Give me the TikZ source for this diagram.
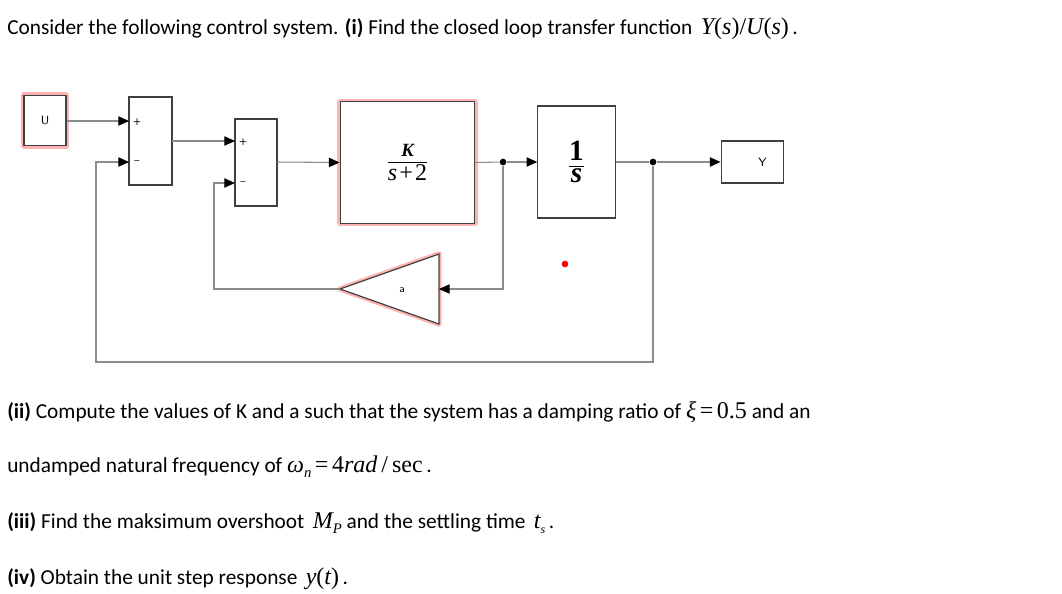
\documentclass[tikz,border=0pt]{standalone}
\usepackage{fontspec}
\setmainfont{Carlito}
\newfontfamily\tms{Liberation Serif}
\usetikzlibrary{arrows.meta}
\newcommand{\mi}[1]{\mbox{\fontsize{18}{20}\tms\itshape #1}}
\newcommand{\mr}[1]{\mbox{\fontsize{18}{20}\tms #1}}
\newcommand{\bi}[1]{\mbox{\fontsize{14}{16}\tms\bfseries\itshape #1}}
\newcommand{\br}[1]{\mbox{\fontsize{14}{16}\tms\bfseries #1}}
\begin{document}
\begin{tikzpicture}[x=0.75pt,y=-0.75pt,
  blk/.style={draw=black!75,line width=0.9pt,fill=white},
  glow/.style={draw=red!30,line width=4pt,line join=round},
  wire/.style={draw=black!45,line width=0.8pt},
  arr/.style={wire,-{Triangle[length=8pt,width=7pt,fill=black,color=black]}},
  dotn/.style={circle,fill=black,inner sep=0pt,minimum size=5pt},
  txt/.style={anchor=base west,inner sep=0pt,font=\fontsize{16}{18}\selectfont},
  sm/.style={font=\sffamily\small},
  pm/.style={inner sep=0pt,font=\sffamily\bfseries\scriptsize}]
\useasboundingbox (0,0) rectangle (1062,593);
% glows
\draw[glow] (24,95) rectangle (66,146);
\draw[glow] (340,102) rectangle (475,223);
\draw[glow] (340,289) -- (439,254) -- (439,324) -- cycle;
% blocks
\node[blk,minimum width=31.5pt,minimum height=38pt,inner sep=0pt,sm] (U) at (45,120.5) {U};
\draw[blk] (129,97) rectangle (172,185);
\node[pm] at (137,122) {+};
\node[pm] at (137,162) {--};
\draw[blk] (235,119) rectangle (277,206);
\node[pm] at (243,142) {+};
\node[pm] at (243,183) {--};
\node[blk,minimum width=101pt,minimum height=91pt,inner sep=0pt] (K) at (407.5,162.5)
  {$\displaystyle\frac{\bi{K}}{\mi{s}\,\mr{+}\,\mr{2}}$};
\node[blk,minimum width=58pt,minimum height=84pt,inner sep=0pt] (I) at (576.5,162)
  {$\displaystyle\frac{\mbox{\fontsize{22}{24}\tms\bfseries 1}}{\mbox{\fontsize{22}{24}\tms\bfseries\itshape s}}$};
\node[blk,minimum width=47pt,minimum height=31.5pt,inner sep=0pt,sm] (Y) at (752.5,162) {\hspace{15pt}Y};
\draw[blk] (340,289) -- (439,254) -- (439,324) -- cycle;
\node[sm,font=\sffamily\footnotesize] (A) at (402,290) {a};
\node[dotn] (d1) at (503,162) {};
\node[dotn] (d2) at (653,162) {};
\node[circle,fill=red,inner sep=0pt,minimum size=5pt] (rd) at (565,264) {};
% wires
\draw[arr] (U.east |- 0,121) -- (129,121);
\draw[arr] (172,141) -- (235,141);
\draw[arr] (277,162) -- (K.west);
\draw[wire] (K.east) -- (d1);
\draw[arr] (d1) -- (I.west);
\draw[wire] (I.east) -- (d2);
\draw[arr] (d2) -- (Y.west);
\draw[arr] (d1) -- (503,289) -- (439,289);
\draw[arr] (340,289) -- (214,289) -- (214,183) -- (235,183);
\draw[arr] (d2) -- (653,362) -- (96,362) -- (96,162) -- (129,162);
% text
\node[txt] (t1) at (7,34) {Consider the following control system. \textbf{(i)} Find the closed loop transfer function \,\mi{Y}\mr{(}\mi{s}\mr{)/}\mi{U}\mr{(}\mi{s}\mr{)}\,.};
\node[txt,text width=778pt,align=justify] (t2) at (7,418) {\parfillskip=0pt \textbf{(ii)} Compute the values of K and a such that the system has a damping ratio of \mi{ξ}\,\mr{=}\,\mr{0.5} and an};
\node[txt] (t3) at (7,472) {undamped natural frequency of \mi{ω}\raisebox{-4pt}{\mbox{\fontsize{11}{12}\tms\itshape n}}\,\mr{=}\,\mr{4}\mi{rad}\mr{\,/\,sec}\,.};
\node[txt] (t4) at (7,528) {\textbf{(iii)} Find the maksimum overshoot \,\mi{M}\raisebox{-4pt}{\mbox{\fontsize{11}{12}\tms\itshape P}} and the settling time \,\mi{t}\raisebox{-4pt}{\mbox{\fontsize{9}{10}\tms\itshape s}}\,.};
\node[txt] (t5) at (7,584) {\textbf{(iv)} Obtain the unit step response \,\mi{y}\mr{(}\mi{t}\mr{)}\,.};
\end{tikzpicture}
\end{document}
